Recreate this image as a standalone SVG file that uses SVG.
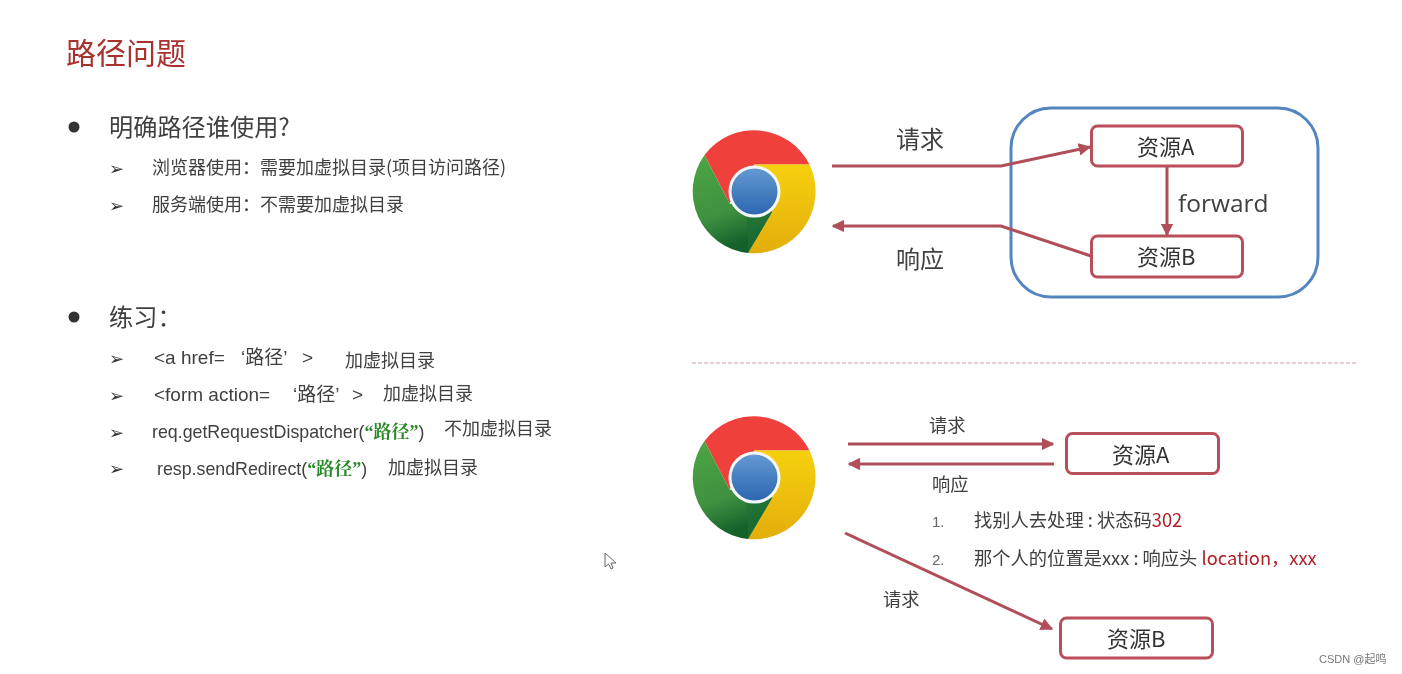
<svg xmlns="http://www.w3.org/2000/svg" width="1402" height="674" viewBox="0 0 1402 674">
<style>
text{font-family:"Liberation Sans","Noto Sans CJK SC",sans-serif;fill:#404040}
.cjk{font-family:"Noto Sans CJK SC","Liberation Sans",sans-serif}
.h{font-size:24.200px}.b1{font-size:18px}.b2{font-size:19px}.lbl{font-size:24px}.sm{font-size:18.300px}.res{font-size:22px;fill:#333}
.mk{font-family:"DejaVu Sans",sans-serif;font-size:18px;fill:#333}
.box{fill:#fff;stroke:#b9505a;stroke-width:3}
.wire{fill:none;stroke:#b0505a;stroke-width:3}
.dot{fill:#333}
.red{fill:#b0202c}
.grn{fill:#2c8a2c;font-weight:bold;font-size:18px;font-family:"Liberation Serif","Noto Serif CJK SC","Noto Sans CJK SC",serif}
</style>
<defs>
<marker id="arr" viewBox="0 0 10 10" refX="9" refY="5" markerWidth="4.200" markerHeight="4.200" orient="auto-start-reverse"><path d="M0 0L10 5L0 10Z" fill="#b0505a"/></marker>
<linearGradient id="gy" x1="0" y1="0" x2="0" y2="1"><stop offset="0" stop-color="#f6d008"/><stop offset="1" stop-color="#e3ae10"/></linearGradient>
<linearGradient id="gg" x1="0" y1="0" x2="0.3" y2="1"><stop offset="0" stop-color="#4ea644"/><stop offset="0.65" stop-color="#3f9040"/><stop offset="1" stop-color="#13602c"/></linearGradient>
<linearGradient id="gb" x1="0" y1="0" x2="0" y2="1"><stop offset="0" stop-color="#659ad2"/><stop offset="1" stop-color="#2a66b0"/></linearGradient>
<filter id="soft" x="0" y="0" width="100%" height="100%"><feGaussianBlur stdDeviation="0.45"/></filter>
<g id="chrome">
<path d="M-50-36.500A62 62 0 0 1 55-27L0-27-25 12Z" fill="#ef3f3a"/>
<path d="M55-27A62 62 0 0 1-6.500 61.500L18 20 0-27Z" fill="url(#gy)"/>
<path d="M-6.500 61.500A62 62 0 0 1-50-36.500L-25 12 18 20Z" fill="url(#gg)"/>
<path d="M-6.500 61.500L18 20-8 22Q-6 45-6.500 61.500Z" fill="#1f6f35" opacity=".7"/>
<circle r="24.500" fill="url(#gb)" stroke="#f4f7fa" stroke-width="3"/>
</g>
</defs>
<rect width="1402" height="674" fill="#fff"/>
<g filter="url(#soft)">
<text class="cjk" x="66" y="64" style="font-size:30px;fill:#a8302f">路径问题</text>
<g id="list-usage">
<circle class="dot" cx="74" cy="127" r="5.500"/>
<text class="cjk h" x="109" y="136">明确路径谁使用?</text>
<text class="mk" x="109" y="175">➢</text>
<text class="cjk b1" x="152" y="174">浏览器使用：需要加虚拟目录(项目访问路径)</text>
<text class="mk" x="109" y="212">➢</text>
<text class="cjk b1" x="152" y="211">服务端使用：不需要加虚拟目录</text>
</g>
<g id="list-practice">
<circle class="dot" cx="74" cy="317" r="5.500"/>
<text class="cjk h" x="109" y="326">练习：</text>
<text class="mk" x="109" y="365">➢</text>
<text class="b2" x="154" y="364">&lt;a href=</text><text class="b2" x="241" y="364">‘路径’</text><text class="b2" x="302" y="364">&gt;</text>
<text class="cjk b1" x="345" y="367">加虚拟目录</text>
<text class="mk" x="109" y="402">➢</text>
<text class="b2" x="154" y="401">&lt;form action=</text><text class="b2" x="293" y="401">‘路径’</text><text class="b2" x="352" y="401">&gt;</text>
<text class="cjk b1" x="383" y="400">加虚拟目录</text>
<text class="mk" x="109" y="439">➢</text>
<text class="b2" x="152" y="438" style="font-size:17.800px">req.getRequestDispatcher(<tspan class="grn">“路径”</tspan>)</text>
<text class="cjk b1" x="444" y="435">不加虚拟目录</text>
<text class="mk" x="109" y="475">➢</text>
<text class="b2" x="157" y="475" style="font-size:17.800px">resp.sendRedirect(<tspan class="grn">“路径”</tspan>)</text>
<text class="cjk b1" x="388" y="474">加虚拟目录</text>
</g>
<g id="browser-top"><use href="#chrome" x="754.500" y="191.500"/></g>
<g id="browser-bottom"><use href="#chrome" x="754.500" y="477.500"/></g>
<g id="server"><rect x="1011" y="108" width="307" height="189" rx="40" fill="none" stroke="#5585bf" stroke-width="3"/></g>
<g id="connectors">
<path class="wire" d="M832 166H1001L1090 147" marker-end="url(#arr)"/>
<path class="wire" d="M1091 256L1001 226H833" marker-end="url(#arr)"/>
<path class="wire" d="M1167 167V235" marker-end="url(#arr)"/>
<path class="wire" d="M848 444H1053" marker-end="url(#arr)"/>
<path class="wire" d="M1054 464H849" marker-end="url(#arr)"/>
<path class="wire" d="M845 533L1052 629" marker-end="url(#arr)"/>
</g>
<line id="divider" x1="692" y1="363" x2="1358" y2="363" stroke="#c9a0a8" stroke-width="1" stroke-dasharray="4 2"/>
<g id="res-a1"><rect class="box" x="1091.500" y="126" width="151" height="40" rx="6"/><text class="cjk res" x="1137" y="155">资源A</text></g>
<g id="res-b1"><rect class="box" x="1091.500" y="236" width="151" height="41" rx="6"/><text class="cjk res" x="1137" y="265">资源B</text></g>
<g id="res-a2"><rect class="box" x="1066.500" y="433.500" width="152" height="40" rx="6"/><text class="cjk res" x="1112" y="463">资源A</text></g>
<g id="res-b2"><rect class="box" x="1060.500" y="618" width="152" height="40" rx="6"/><text class="cjk res" x="1107" y="647">资源B</text></g>
<g id="labels">
<text class="cjk lbl" x="896" y="148">请求</text>
<text class="cjk lbl" x="896" y="268">响应</text>
<text class="lbl" x="1178" y="212" style="font-family:'Open Sans','Liberation Sans',sans-serif;font-size:24.500px">forward</text>
<text class="cjk sm" x="929" y="432">请求</text>
<text class="cjk sm" x="932" y="491">响应</text>
<text class="cjk sm" x="883" y="606">请求</text>
<text x="932" y="527" style="font-size:15px;fill:#666">1.</text>
<text class="cjk sm" x="974" y="527">找别人去处理 : 状态码<tspan class="red">302</tspan></text>
<text x="932" y="565" style="font-size:15px;fill:#666">2.</text>
<text class="cjk sm" x="974" y="565">那个人的位置是xxx : 响应头 <tspan class="red">location，xxx</tspan></text>
</g>
<path id="cursor" d="M605 553V567L608.500 564 611 569 613 568 611 563H616Z" fill="#fff" stroke="#666" stroke-width="1"/>
<text x="1319" y="663" style="font-size:11px;fill:#777">CSDN @起鸣</text>
</g>
</svg>
